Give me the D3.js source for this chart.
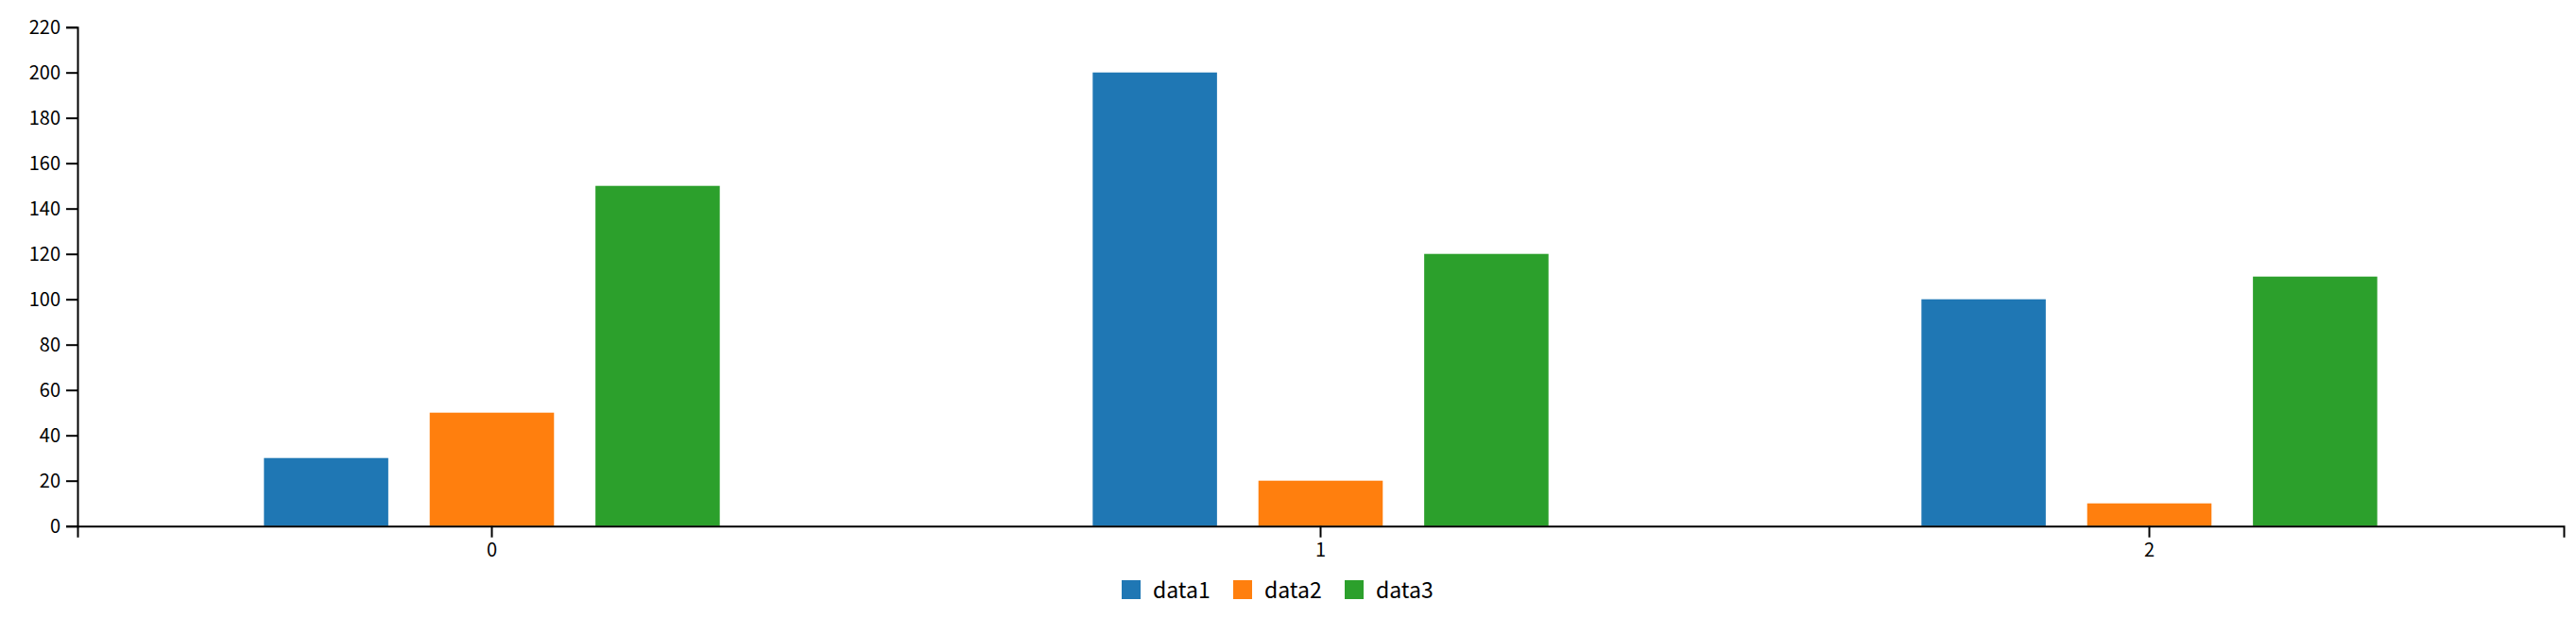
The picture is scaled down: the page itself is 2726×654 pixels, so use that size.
<!DOCTYPE html>
<html>
<head>
<meta charset="utf-8">
<script src="https://cdn.jsdelivr.net/npm/d3@7"></script>
<style>
body { margin: 0; background: #fff; }
text { font-family: "Noto Sans CJK JP", "Noto Sans", sans-serif; }
</style>
</head>
<body>
<svg width="2726" height="654"></svg>
<script>

var categories = ["0", "1", "2"];
var series = ["data1", "data2", "data3"];
var data1 = [30, 200, 100];
var data2 = [50, 20, 10];
var data3 = [150, 120, 110];
var yTicks = [0, 20, 40, 60, 80, 100, 120, 140, 160, 180, 200, 220];
var colors = ["#1f77b4", "#ff7f0e", "#2ca02c"];

var values = [data1, data2, data3];

var svg = d3.select("svg");

// plot area (named so they don't clash with window.top)
var plotLeft = 82, plotRight = 2713, plotTop = 28.7, plotBottom = 556.7;

var x0 = d3.scaleBand().domain(categories).range([plotLeft, plotRight]).padding(0);
var bw = x0.bandwidth();
var x1 = d3.scaleBand().domain(series).range([-0.3 * bw, 0.3 * bw]).padding(0);
var barW = x1.bandwidth() * 0.75;

var y = d3.scaleLinear().domain([0, 220]).range([plotBottom, plotTop]);
var color = d3.scaleOrdinal().domain(series).range(colors);

// bars
series.forEach(function(s, si) {
  svg.append("g").selectAll("rect")
    .data(values[si])
    .enter()
    .append("rect")
    .attr("x", function(d, i) { return x0(categories[i]) + bw / 2 + x1(s) + (x1.bandwidth() - barW) / 2; })
    .attr("y", function(d) { return y(d); })
    .attr("width", barW)
    .attr("height", function(d) { return y(0) - y(d); })
    .attr("fill", color(s));
});

// axes
var xAxis = d3.axisBottom(x0).tickSize(12).tickSizeOuter(12).tickPadding(6);
var gx = svg.append("g").attr("transform", "translate(0," + plotBottom + ")").call(xAxis);

var yAxis = d3.axisLeft(y).tickValues(yTicks).tickSize(12).tickSizeOuter(12).tickPadding(6);
var gy = svg.append("g").attr("transform", "translate(" + plotLeft + ",0)").call(yAxis);

[gx, gy].forEach(function(g) {
  g.selectAll("path, line").attr("stroke", "#000").attr("stroke-width", 2);
  g.selectAll("text").attr("font-size", 20).attr("fill", "#000")
    .style("font-family", '"Noto Sans CJK JP", "Noto Sans", sans-serif');
});

// legend
var legendStart = 1187, legendStep = 118;
var legend = svg.append("g").selectAll("g")
  .data(series)
  .enter()
  .append("g")
  .attr("transform", function(d, i) { return "translate(" + (legendStart + i * legendStep) + ",614)"; });

legend.append("rect")
  .attr("width", 20)
  .attr("height", 20)
  .attr("fill", function(d) { return color(d); });

legend.append("text")
  .attr("x", 33)
  .attr("y", 19)
  .attr("font-size", 23)
  .attr("fill", "#000")
  .text(function(d) { return d; });

</script>
</body>
</html>
